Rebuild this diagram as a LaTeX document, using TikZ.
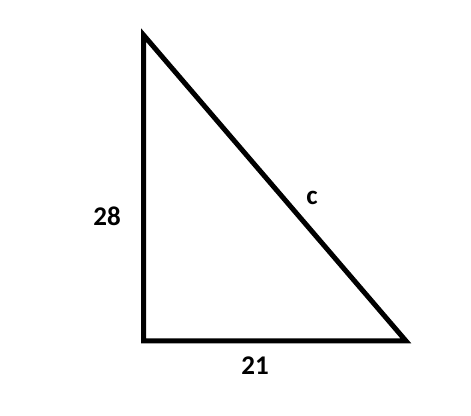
\documentclass[tikz,border=0pt]{standalone}
\usepackage{fontspec}
\setmainfont{Carlito}
\begin{document}
\begin{tikzpicture}[x=1pt,y=1pt,
  lbl/.style={font=\fontsize{27}{32}\selectfont\bfseries, inner sep=0pt}]
\useasboundingbox[fill=white] (0,0) rectangle (471,415);
\coordinate (A) at (143.5,380);
\coordinate (B) at (143.5,74);
\coordinate (C) at (406,74);
\draw[line width=5pt, line join=miter] (A) -- (B) -- (C) -- cycle;
\node[lbl] (l28) at (107,199) {28};
\node[lbl] (lc) at (312,217) {c};
\node[lbl] (l21) at (255,49) {21};
\end{tikzpicture}
\end{document}
